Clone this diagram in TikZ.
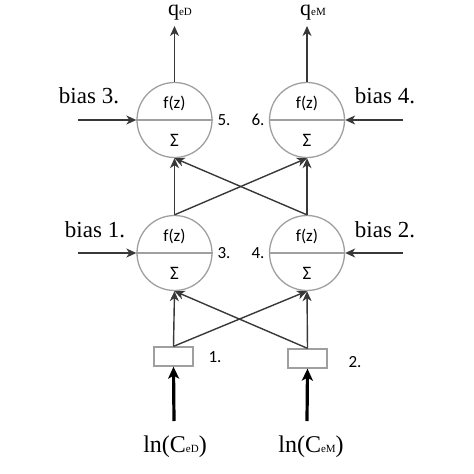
\documentclass[tikz,border=0pt]{standalone}
\usepackage{fontspec}
\setmainfont{Liberation Serif}
\newfontfamily\calfont{Carlito}
\usetikzlibrary{arrows.meta}
\tikzset{
  neuron/.style={circle,draw=gray!75,line width=1.3pt,minimum size=75pt,inner sep=0pt},
  inbox/.style={rectangle,draw=gray!75,line width=1.3pt,minimum width=39pt,minimum height=19pt,inner sep=0pt},
  conn/.style={draw=black!78,line width=1.4pt,-{Stealth[length=10pt,width=9pt,inset=3pt]}},
  thick conn/.style={draw=black,line width=3.2pt,-{Stealth[length=12pt,width=11pt,inset=3pt]}},
  divline/.style={draw=gray!75,line width=1.3pt},
  inner/.style={font=\calfont\fontsize{17}{17}\selectfont,inner sep=0pt},
  sigma/.style={font=\calfont\fontsize{19}{19}\selectfont,inner sep=0pt},
  num/.style={font=\calfont\fontsize{17}{17}\selectfont,inner sep=0pt},
  biaslabel/.style={font=\fontsize{23}{23}\selectfont,inner sep=0pt,anchor=base},
  iolabel/.style={inner sep=0pt,anchor=base},
}
\newcommand{\bigt}[1]{{\fontsize{24}{24}\selectfont #1}}
\newcommand{\smt}[1]{{\fontsize{11}{11}\selectfont #1}}
\begin{document}
\begin{tikzpicture}[x=1pt,y=-1pt]
\useasboundingbox (0,0) rectangle (474,474);
% neurons
\node[neuron] (n5) at (174.5,120) {};
\node[neuron] (n6) at (307,120) {};
\node[neuron] (n3) at (174.5,253) {};
\node[neuron] (n4) at (307,253) {};
\node[inbox] (b1) at (173.5,356.5) {};
\node[inbox] (b2) at (307.5,358.5) {};
\foreach \n in {n3,n4,n5,n6} \draw[divline] (\n.west) -- (\n.east);
% inner texts
\node[inner] (f5) at (174.5,103) {f(z)};
\node[sigma] (s5) at (174.5,140) {Σ};
\node[inner] (f6) at (307,103) {f(z)};
\node[sigma] (s6) at (307,140) {Σ};
\node[inner] (f3) at (174.5,236) {f(z)};
\node[sigma] (s3) at (174.5,273) {Σ};
\node[inner] (f4) at (307,236) {f(z)};
\node[sigma] (s4) at (307,273) {Σ};
% numbers
\node[num] (l5) at (224,120) {5.};
\node[num] (l6) at (258,120) {6.};
\node[num] (l3) at (224,253) {3.};
\node[num] (l4) at (258,253) {4.};
\node[num] (l1) at (215,357) {1.};
\node[num] (l2) at (355,362) {2.};
% bias labels
\node[biaslabel] (bl3) at (89,103) {bias 3.};
\node[biaslabel] (bl4) at (385,103) {bias 4.};
\node[biaslabel] (bl1) at (95,237) {bias 1.};
\node[biaslabel] (bl2) at (385,237) {bias 2.};
% bias arrows
\coordinate (c3) at (78,120);
\coordinate (c4) at (403,120);
\coordinate (c1) at (78,253);
\coordinate (c2) at (403,253);
\draw[conn] (c3) -- (n5.west);
\draw[conn] (c4) -- (n6.east);
\draw[conn] (c1) -- (n3.west);
\draw[conn] (c2) -- (n4.east);
% outputs
\coordinate (o5) at (174.5,26);
\coordinate (o6) at (307,26);
\draw[conn] (n5.north) -- (o5);
\draw[conn] (n6.north) -- (o6);
\node[iolabel] (q1) at (180,15) {{\fontsize{22}{22}\selectfont q}\smt{eD}};
\node[iolabel] (q2) at (313,15) {{\fontsize{22}{22}\selectfont q}\smt{eM}};
% hidden to output
\draw[conn] (n3.north) -- (n5.south);
\draw[conn] (n3.north) -- (n6.south);
\draw[conn] (n4.north) -- (n5.south);
\draw[conn] (n4.north) -- (n6.south);
% input to hidden
\draw[conn] (b1.north) -- (n3.south);
\draw[conn] (b1.north) -- (n4.south);
\draw[conn] (b2.north) -- (n3.south);
\draw[conn] (b2.north) -- (n4.south);
% inputs
\coordinate (i1) at (174,421);
\coordinate (i2) at (307,421);
\draw[thick conn] (i1) -- (b1.south);
\draw[thick conn] (i2) -- (b2.south);
\node[iolabel] (ln1) at (175,452) {\bigt{ln(C}\smt{eD}\bigt{)}};
\node[iolabel] (ln2) at (311,452) {\bigt{ln(C}\smt{eM}\bigt{)}};
\end{tikzpicture}
\end{document}
